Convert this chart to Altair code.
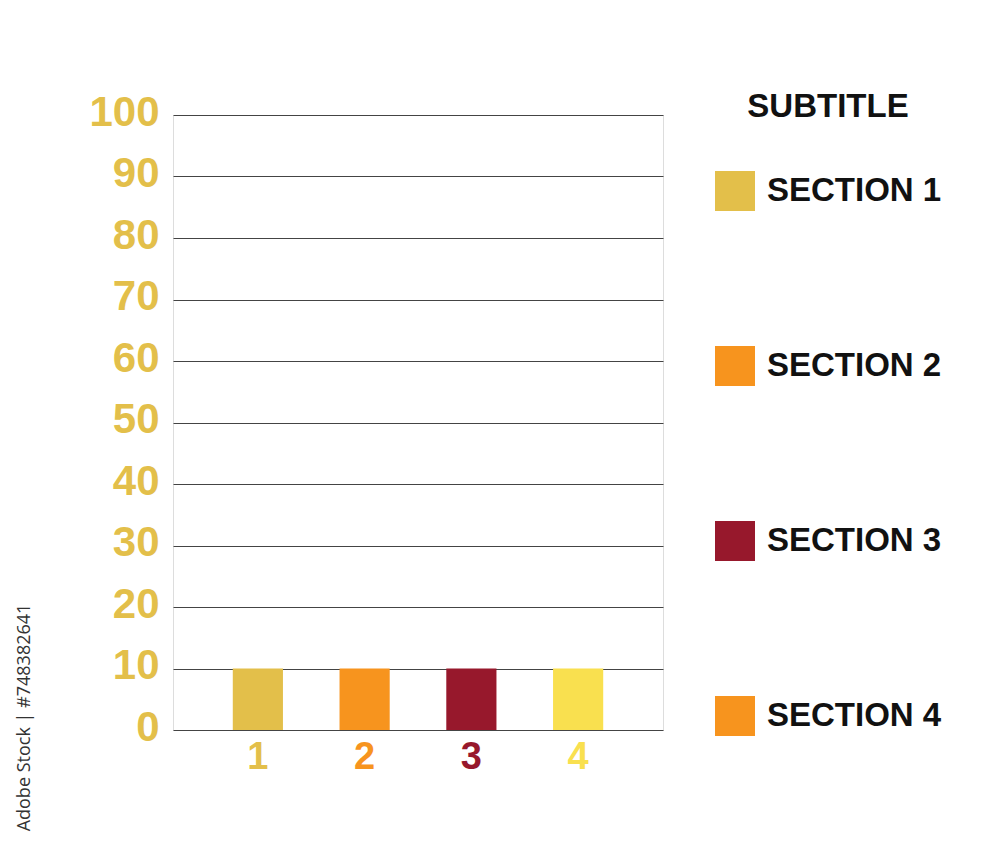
import altair as alt
import pandas as pd

categories = ["1", "2", "3", "4"]
values = [10, 10, 10, 10]
bar_colors = ["#E3BF4A", "#F7941E", "#97182C", "#F9E04F"]

legend_labels = ["SECTION 1", "SECTION 2", "SECTION 3", "SECTION 4"]
legend_colors = ["#E3BF4A", "#F7941E", "#97182C", "#F7941E"]
legend_title = "SUBTITLE"
y_ticks = [0, 10, 20, 30, 40, 50, 60, 70, 80, 90, 100]
watermark = "Adobe Stock | #748382641"

bars_df = pd.DataFrame({"cat": categories, "value": values, "color": bar_colors})
legend_df = pd.DataFrame({"cat": categories, "section": legend_labels, "zero": [0, 0, 0, 0]})

label_expr = " : ".join(
    [f"datum.value == '{c}' ? '{col}'" for c, col in zip(categories, bar_colors)]
) + " : '#000'"

FONT = "Liberation Sans"

x_enc = alt.X(
    "cat:N",
    sort=categories,
    scale=alt.Scale(paddingInner=0.53, paddingOuter=0.56),
    axis=alt.Axis(
        title=None,
        labelAngle=0,
        labelFont=FONT,
        labelFontWeight="bold",
        labelFontSize=38,
        labelColor=alt.ExprRef(label_expr),
        labelPadding=8,
        ticks=False,
        domain=False,
        grid=False,
    ),
)

bars = alt.Chart(bars_df).mark_bar().encode(
    x=x_enc,
    y=alt.Y(
        "value:Q",
        scale=alt.Scale(domain=[0, 100], nice=False),
        axis=alt.Axis(
            values=y_ticks,
            title=watermark,
            titleFont="Open Sans",
            titleFontWeight=500,
            titleFontSize=18,
            titleColor="#333333",
            titleAngle=270,
            titleX=-149,
            titleY=602,
            titleAlign="center",
            titleBaseline="middle",
            labelFont=FONT,
            labelFontWeight="bold",
            labelFontSize=42,
            labelColor="#E3BF4A",
            labelPadding=14,
            labelOffset=-3,
            ticks=False,
            domain=False,
            grid=True,
            gridColor="#444444",
            gridWidth=1,
        ),
    ),
    color=alt.Color("color:N", scale=None),
)

legend_layer = alt.Chart(legend_df).mark_bar().encode(
    x=alt.X("cat:N", sort=categories),
    y=alt.Y("zero:Q"),
    color=alt.Color(
        "section:N",
        scale=alt.Scale(domain=legend_labels, range=legend_colors),
        legend=alt.Legend(
            title=legend_title,
            orient="none",
            legendX=542,
            legendY=-24,
            symbolType="square",
            symbolSize=1600,
            symbolOpacity=1,
            symbolStrokeWidth=0,
            labelFont=FONT,
            labelFontWeight="bold",
            labelFontSize=33,
            labelColor="#111111",
            labelOffset=12,
            labelLimit=400,
            rowPadding=135,
            titleFont=FONT,
            titleFontWeight="bold",
            titleFontSize=33,
            titleColor="#111111",
            titleAnchor="middle",
            titlePadding=47,
        ),
    ),
)

chart = alt.layer(bars, legend_layer).properties(
    width=490,
    height=615,
    autosize=alt.AutoSizeParams(type="none"),
    padding={"left": 165, "top": 107, "right": 329, "bottom": 105},
).configure_view(stroke="#444444", strokeWidth=1).configure(background="white")

chart.save("out.html", embed_options={"renderer": "svg", "actions": False})
